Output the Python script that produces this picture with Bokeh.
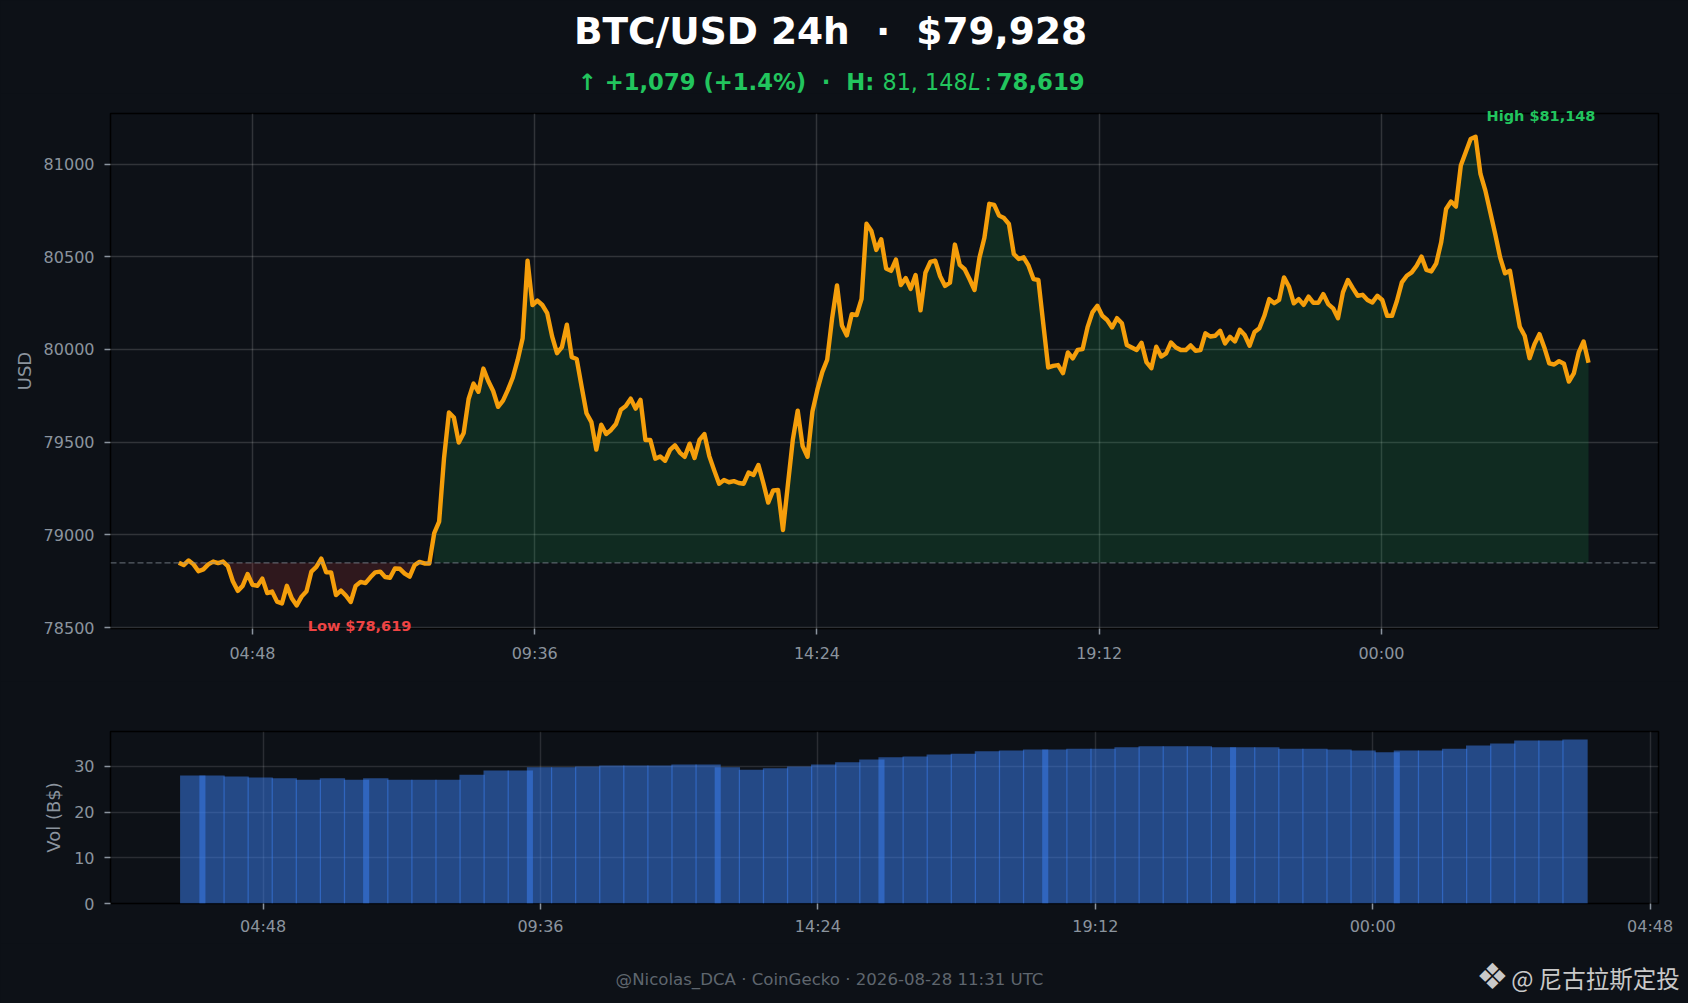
from bokeh.embed import file_html
from bokeh.layouts import column
from bokeh.models import BasicTickFormatter, FixedTicker, Label, Range1d, Span
from bokeh.plotting import figure
from bokeh.resources import INLINE

title_text = "BTC/USD 24h \u00a0·\u00a0 $79,928"
footer_text = "@Nicolas_DCA · CoinGecko · 2026-08-28 11:31 UTC"
watermark_text = "@ 尼古拉斯定投"
tick_minutes = [288, 576, 864, 1152, 1440]
tick_labels = ["04:48", "09:36", "14:24", "19:12", "00:00"]
price_ticks = [78500, 79000, 79500, 80000, 80500, 81000]
vol_ticks = [0, 10, 20, 30]

open_price = 78849
first_minute = 212.8
last_minute = 1651.3
price = [
    78850, 78837, 78862, 78841, 78804, 78814, 78841, 78856, 78848, 78856,
    78831, 78750, 78698, 78725, 78789, 78731, 78725, 78764, 78686, 78694,
    78640, 78630, 78725, 78658, 78619, 78667, 78696, 78802, 78827, 78872,
    78798, 78798, 78675, 78700, 78673, 78638, 78725, 78746, 78740, 78771,
    78798, 78802, 78773, 78769, 78819, 78817, 78791, 78775, 78837, 78854,
    78846, 78846, 79010, 79072, 79415, 79660, 79633, 79498, 79550, 79733,
    79816, 79772, 79897, 79830, 79776, 79691, 79724, 79782, 79849, 79945,
    80061, 80479, 80240, 80264, 80240, 80196,
    80071, 79980, 80013, 80134, 79959, 79949, 79801, 79656, 79608, 79460,
    79594, 79544, 79566, 79598, 79675, 79695, 79735, 79681, 79728, 79512,
    79512, 79411, 79423, 79400, 79458, 79483, 79444, 79421, 79492, 79415,
    79512, 79544, 79425, 79348, 79276, 79296, 79284, 79290, 79280, 79276,
    79336, 79323, 79377, 79280, 79174, 79240, 79242, 79026, 79271, 79512,
    79670, 79479, 79421, 79666, 79782, 79878, 79945, 80167, 80346, 80129,
    80076, 80190, 80186, 80273, 80678, 80639, 80537, 80595, 80437, 80424,
    80485, 80348, 80385, 80327, 80402, 80211, 80414, 80472, 80479, 80395,
    80343, 80360, 80566, 80456, 80433, 80379, 80321, 80495, 80601, 80786,
    80780, 80722,
    80709, 80677, 80515, 80488, 80497, 80452, 80380, 80375, 80137, 79903,
    79912, 79916, 79872, 79984, 79952, 79998, 80002, 80119, 80200, 80236,
    80182, 80159, 80119, 80169, 80141, 80024, 80011, 79997, 80036, 79932,
    79899, 80015, 79962, 79979, 80038, 80011, 79997, 79997, 80022, 79993,
    79997, 80087, 80070, 80074, 80101, 80033, 80069, 80043, 80106, 80078,
    80020, 80094, 80115, 80182, 80272, 80250, 80267, 80389, 80340, 80249,
    80272,
    80241, 80285, 80252, 80252, 80299, 80245, 80222, 80169, 80308, 80375,
    80331, 80290, 80295, 80267, 80254, 80290, 80267, 80182, 80182, 80263,
    80362, 80398, 80416, 80452, 80501, 80429, 80421, 80465, 80578, 80758,
    80798, 80771, 80992, 81064, 81136, 81148, 80947, 80857, 80740, 80623,
    80497, 80411, 80425, 80272, 80123, 80074, 79953, 80029, 80083, 80011,
    79925, 79919, 79937, 79923, 79827, 79871, 79984, 80043, 79928,
]

vol_minutes = [
    215, 235, 260, 285, 310, 335, 360, 385, 405, 430, 455, 480, 505, 530, 555,
    575, 600, 625, 650, 675, 700, 725, 750, 770, 795, 820, 845, 870, 895, 920,
    940, 965, 990, 1015, 1040, 1065, 1090, 1110, 1135, 1160, 1185, 1210, 1235,
    1260, 1285, 1305, 1330, 1355, 1380, 1405, 1430, 1455, 1475, 1500, 1525,
    1550, 1575, 1600, 1625, 1650,
]
vol_values = [
    28.0, 28.0, 27.8, 27.6, 27.4, 27.1, 27.4, 27.1, 27.4, 27.1, 27.1, 27.1,
    28.2, 29.1, 29.1, 29.8, 29.8, 30.0, 30.2, 30.2, 30.2, 30.4, 30.4, 29.8,
    29.3, 29.6, 30.0, 30.4, 30.9, 31.5, 32.0, 32.2, 32.6, 32.8, 33.3, 33.5,
    33.7, 33.7, 33.9, 33.9, 34.2, 34.4, 34.4, 34.4, 34.2, 34.2, 34.2, 33.9,
    33.9, 33.7, 33.5, 33.1, 33.5, 33.5, 33.9, 34.6, 35.0, 35.7, 35.7, 35.9,
]

BG = "#0d1117"
MUTED = "#8b949e"
GREEN = "#22c55e"
RED = "#ef4444"
ORANGE = "#f59e0b"
BLUE = "#3b82f6"
FONT = "DejaVu Sans"
WIDTH = 1688

step = (last_minute - first_minute) / (len(price) - 1)
minutes = [first_minute + i * step for i in range(len(price))]
high_i = price.index(max(price))
low_i = price.index(min(price))


def style(p, ticks, yticks):
    p.background_fill_color = BG
    p.border_fill_color = BG
    p.outline_line_color = "#000000"
    p.outline_line_width = 1.5
    for ax in (p.xaxis[0], p.yaxis[0]):
        ax.axis_line_color = None
        ax.major_tick_line_color = MUTED
        ax.major_tick_line_width = 1.5
        ax.major_tick_out = 6
        ax.major_tick_in = 0
        ax.minor_tick_line_color = None
        ax.major_label_text_color = MUTED
        ax.major_label_text_font = FONT
        ax.major_label_text_font_size = "16px"
        ax.axis_label_text_color = MUTED
        ax.axis_label_text_font = FONT
        ax.axis_label_text_font_size = "18px"
        ax.axis_label_text_font_style = "normal"
    p.xaxis[0].ticker = FixedTicker(ticks=ticks)
    p.yaxis[0].ticker = FixedTicker(ticks=yticks)
    p.xaxis[0].major_label_overrides = dict(zip(ticks, (tick_labels + tick_labels)[:len(ticks)]))
    p.yaxis[0].formatter = BasicTickFormatter(use_scientific=False)
    p.xgrid[0].ticker = FixedTicker(ticks=ticks)
    p.ygrid[0].ticker = FixedTicker(ticks=yticks)
    for g in (p.xgrid[0], p.ygrid[0]):
        g.grid_line_color = "#ffffff"
        g.grid_line_alpha = 0.15
        g.grid_line_width = 1.5


def band(page_top, page_bottom):
    """A bare strip of the page whose data coordinates are page pixels, for the headline texts."""
    p = figure(width=WIDTH, height=page_bottom - page_top, x_range=Range1d(0, WIDTH),
               y_range=Range1d(page_bottom, page_top), min_border=0, frame_align=False,
               output_backend="svg", toolbar_location=None)
    p.axis.visible = False
    p.grid.visible = False
    p.outline_line_color = None
    p.background_fill_color = BG
    p.border_fill_color = BG
    return p


def put(p, text, x, y, size, color=GREEN, font_style="bold", align="left", font=FONT):
    p.add_layout(Label(x=x, y=y, text=text, text_color=color, text_font=font, text_font_size=size,
                       text_font_style=font_style, text_align=align, text_baseline="middle"))


header = band(0, 93)
put(header, title_text, 830, 30, "37.5px", color="#ffffff", align="center")
put(header, "↑ +1,079 (+1.4%) \u00a0·\u00a0 H:", 577.3, 81, "22.7px")
put(header, "81, 148", 882, 81, "22.3px", font_style="normal")
put(header, "L", 967.7, 81, "22.3px", font_style="italic")
put(header, ":", 984, 81, "22.3px", font_style="normal")
put(header, "78,619", 996.2, 81, "22.8px")

main = figure(
    width=WIDTH, height=587, frame_width=1548, frame_height=515,
    min_border_left=110, min_border_right=30, min_border_top=20, min_border_bottom=52,
    x_range=Range1d(143.1, 1722.7), y_range=Range1d(78495, 81273),
    output_backend="svg", toolbar_location=None,
)
style(main, tick_minutes, price_ticks)
main.yaxis[0].axis_label = "USD"
main.yaxis[0].axis_label_standoff = 6
main.yaxis[0].major_label_standoff = 10
main.xaxis[0].major_label_standoff = 9

# fill each run of points on one side of the opening price
run_start = 0
for i in range(1, len(price) + 1):
    if i == len(price) or (price[i] >= open_price) != (price[run_start] >= open_price):
        if i - run_start > 1:
            up = price[run_start] >= open_price
            main.varea(
                x=minutes[run_start:i], y1=[open_price] * (i - run_start), y2=price[run_start:i],
                fill_color=GREEN if up else RED, fill_alpha=0.15,
            )
        run_start = i

main.add_layout(Span(location=open_price, dimension="width", line_color=MUTED, line_alpha=0.6,
                     line_dash="6 3", line_width=1.4))
main.line(minutes, price, line_color=ORANGE, line_width=4.4, line_join="round")

main.add_layout(Label(x=minutes[high_i], y=price[high_i], x_offset=11, y_offset=21,
                      text="High $81,148",
                      text_color=GREEN, text_font=FONT, text_font_size="14.5px",
                      text_font_style="bold", text_baseline="middle"), "above")
main.add_layout(Label(x=minutes[low_i], y=price[low_i], x_offset=11, y_offset=-20,
                      text="Low $78,619",
                      text_color=RED, text_font=FONT, text_font_size="14.5px",
                      text_font_style="bold", text_baseline="middle"), "below")

vol = figure(
    width=WIDTH, height=262, frame_width=1548, frame_height=172,
    min_border_left=110, min_border_right=30, min_border_top=50, min_border_bottom=40,
    x_range=Range1d(129.6, 1736.7), y_range=Range1d(0, 37.65),
    output_backend="svg", toolbar_location=None,
)
style(vol, tick_minutes + [1728], vol_ticks)
vol.xgrid[0].grid_line_alpha = 0.12
vol.ygrid[0].grid_line_alpha = 0.12
vol.yaxis[0].axis_label = "Vol (B$)"
vol.yaxis[0].axis_label_standoff = 7
vol.yaxis[0].major_label_standoff = 10
vol.xaxis[0].major_label_standoff = 7
vol.vbar(x=vol_minutes, top=vol_values, width=26.3, bottom=0, fill_color=BLUE, fill_alpha=0.5, line_color=None)

footer = band(943, 1003)
put(footer, footer_text, 829, 979, "16.6px", color="#5f666e", font_style="normal", align="center")
put(footer, "❖", 1492, 975.7, "36px", color="#c9c9c9", font_style="normal", align="center")
put(footer, watermark_text, 1510.7, 977.7, "23.5px", color="#c9c9c9", font_style="normal", font="Noto Sans CJK SC")

root = column(header, main, vol, footer, spacing=0)
html = file_html(root, INLINE)
# the seams between the figures must show the chart's dark background, not white
html = html.replace("</head>", "<style>html,body{background:#0d1117}</style></head>")
open("out.html", "w").write(html)
